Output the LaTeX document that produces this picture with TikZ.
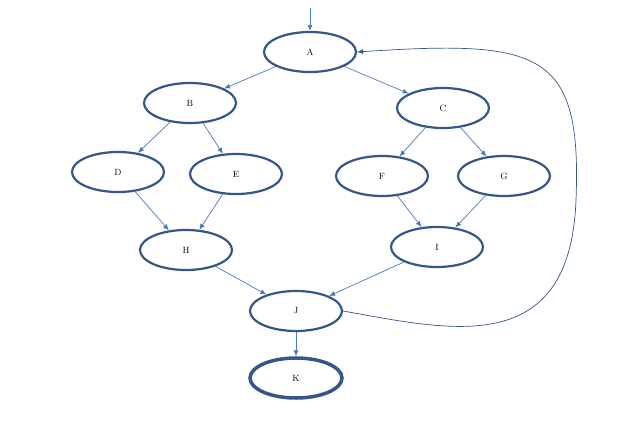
\documentclass[tikz,border=0pt]{standalone}
\usetikzlibrary{arrows.meta,shapes.geometric}
\begin{document}
\begin{tikzpicture}[x=1pt,y=-1pt,
 st/.style={ellipse,draw=ebd,line width=2.2pt,minimum width=92pt,minimum height=40pt,inner sep=0pt,font=\small},
 ar/.style={draw=lnc,line width=0.7pt,-{Latex[length=6pt,width=5pt]}}]
\definecolor{ebd}{RGB}{52,86,140}
\definecolor{lnc}{RGB}{74,120,190}
\useasboundingbox (0,0) rectangle (621,431);
\node[st] (A) at (310,52) {A};
\node[st] (B) at (190,103) {B};
\node[st] (C) at (443,108) {C};
\node[st] (D) at (118,172) {D};
\node[st] (E) at (236,174) {E};
\node[st] (F) at (382,176) {F};
\node[st] (G) at (504,176) {G};
\node[st] (H) at (186,250) {H};
\node[st] (I) at (437,247) {I};
\node[st] (J) at (296,311) {J};
\node[st,line width=3.5pt] (K) at (296,378) {K};
\coordinate (s) at (310,8);
\draw[ar] (s) -- (A);
\draw[ar] (A) -- (B); \draw[ar] (A) -- (C);
\draw[ar] (B) -- (D); \draw[ar] (B) -- (E);
\draw[ar] (C) -- (F); \draw[ar] (C) -- (G);
\draw[ar] (D) -- (H); \draw[ar] (E) -- (H);
\draw[ar] (F) -- (I); \draw[ar] (G) -- (I);
\draw[ar] (H) -- (J); \draw[ar] (I) -- (J);
\draw[ar] (J) -- (K);
\draw[ar,draw=ebd] (J.east) .. controls (450,330) and (570,360) .. (576,200) .. controls (582,50) and (540,40) .. (A.east);
\end{tikzpicture}
\end{document}
